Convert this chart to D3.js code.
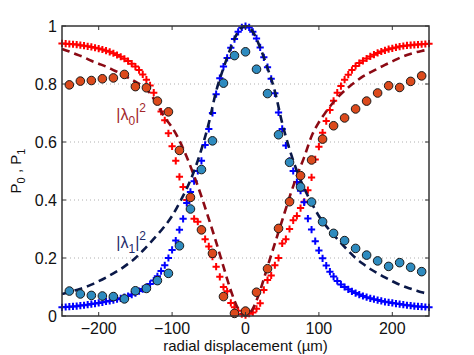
<!DOCTYPE html>
<html><head><meta charset="utf-8">
<script src="https://cdn.jsdelivr.net/npm/d3@7"></script>
<style>body{margin:0;background:#fff}svg{display:block}text{font-family:"Liberation Sans",Arial,Helvetica,sans-serif}</style>
</head><body>
<script>
// ---------- data ----------
const xTicks = [-200, -100, 0, 100, 200];
const yTicks = [0, 0.2, 0.4, 0.6, 0.8, 1];
const yTickLabels = ["0", "0.2", "0.4", "0.6", "0.8", "1"];

// simulation (crosses), every 5 µm from -250 to 250
const simX = d3.range(-250, 251, 5);
const simP0 = [0.940,0.939,0.938,0.937,0.936,0.934,0.932,0.930,0.928,0.925,0.922,0.919,0.915,0.911,0.906,0.900,0.894,0.887,0.879,0.870,0.860,0.848,0.833,0.815,0.795,0.770,0.742,0.705,0.675,0.630,0.585,0.535,0.480,0.445,0.400,0.370,0.335,0.325,0.300,0.265,0.240,0.205,0.170,0.135,0.100,0.085,0.045,0.030,0.018,0.006,0.003,
  0.008,0.012,0.025,0.044,0.090,0.124,0.140,0.175,0.200,0.250,0.265,0.300,0.330,0.345,0.372,0.394,0.434,0.478,0.540,0.584,0.632,0.672,0.710,0.742,0.770,0.793,0.815,0.832,0.848,0.862,0.872,0.880,0.888,0.895,0.901,0.907,0.912,0.916,0.920,0.923,0.926,0.929,0.931,0.933,0.934,0.935,0.936,0.937,0.938,0.939];
const simP1 = [0.030,0.031,0.032,0.033,0.034,0.036,0.037,0.039,0.041,0.043,0.045,0.047,0.050,0.052,0.055,0.058,0.061,0.065,0.069,0.074,0.079,0.086,0.093,0.100,0.110,0.122,0.137,0.155,0.175,0.200,0.228,0.260,0.297,0.335,0.390,0.428,0.465,0.500,0.535,0.590,0.645,0.700,0.765,0.820,0.860,0.890,0.925,0.955,0.980,0.995,1.000,
  0.995,0.980,0.957,0.926,0.892,0.858,0.818,0.768,0.702,0.645,0.588,0.535,0.500,0.462,0.432,0.392,0.336,0.298,0.258,0.226,0.199,0.174,0.153,0.136,0.121,0.109,0.100,0.092,0.085,0.079,0.074,0.069,0.065,0.061,0.058,0.055,0.052,0.049,0.047,0.045,0.043,0.041,0.039,0.037,0.036,0.034,0.033,0.032,0.031,0.030];

// theory (dashed), every 10 µm
const thX = d3.range(-250, 251, 10);
const thL0 = [0.921,0.912,0.902,0.892,0.880,0.870,0.860,0.848,0.836,0.822,0.808,0.792,0.768,0.728,0.685,0.650,0.605,0.548,0.483,0.412,0.335,0.255,0.170,0.088,0.025,0.000,
  0.025,0.088,0.170,0.250,0.330,0.410,0.483,0.548,0.620,0.668,0.705,0.738,0.765,0.788,0.808,0.826,0.840,0.853,0.866,0.878,0.890,0.900,0.908,0.914,0.919];
const thL1 = [0.076,0.082,0.090,0.098,0.108,0.120,0.133,0.147,0.162,0.180,0.200,0.225,0.252,0.280,0.310,0.345,0.390,0.440,0.500,0.575,0.665,0.775,0.855,0.925,0.980,1.000,
  0.980,0.925,0.855,0.775,0.665,0.575,0.500,0.440,0.390,0.345,0.310,0.280,0.252,0.225,0.200,0.180,0.162,0.147,0.133,0.120,0.108,0.098,0.090,0.082,0.076];

// measurements (circles), every 15 µm
const expX = [-240,-225,-210,-195,-180,-165,-150,-135,-120,-105,-90,-75,-60,-45,-30,-15,0,15,30,45,60,75,90,105,120,135,150,165,180,195,210,225,240];
const expP0 = [0.797,0.810,0.812,0.818,0.821,0.833,0.791,0.787,0.741,0.704,0.571,0.409,0.297,0.216,0.067,0.009,0.017,0.082,0.163,0.302,0.394,0.484,0.538,0.610,0.656,0.683,0.714,0.741,0.769,0.794,0.788,0.809,0.828];
const expP1 = [0.086,0.076,0.071,0.069,0.067,0.059,0.087,0.095,0.122,0.147,0.242,0.369,0.505,0.604,0.803,0.898,0.911,0.851,0.767,0.625,0.530,0.445,0.393,0.325,0.285,0.260,0.233,0.210,0.190,0.171,0.184,0.168,0.153];

// ---------- drawing ----------
const W = 474, H = 355;
const m = {l: 62, r: 45, t: 26, b: 39};
const svg = d3.select("body").append("svg").attr("width", W).attr("height", H);
const x = d3.scaleLinear().domain([-250, 250]).range([m.l, W - m.r]);
const y = d3.scaleLinear().domain([0, 1]).range([H - m.b, m.t]);
const pw = W - m.l - m.r, ph = H - m.t - m.b;

// grid
svg.append("g").selectAll("line").data(yTicks.filter(v => v > 0 && v < 1)).join("line")
  .attr("x1", m.l).attr("x2", W - m.r).attr("y1", d => y(d)).attr("y2", d => y(d))
  .attr("stroke", "#b0b0b0").attr("stroke-width", 1).attr("stroke-dasharray", "1,3");

const plot = svg.append("g");
const clip = svg.append("clipPath").attr("id", "c").append("rect")
  .attr("x", m.l - 6).attr("y", m.t - 6).attr("width", pw + 12).attr("height", ph + 12);
plot.attr("clip-path", "url(#c)");

function crosses(xs, ys, color) {
  const s = 3.6;
  plot.append("g").selectAll("path").data(xs.map((d, i) => [d, ys[i]])).join("path")
    .attr("d", d => `M${x(d[0]) - s},${y(d[1])}H${x(d[0]) + s}M${x(d[0])},${y(d[1]) - s}V${y(d[1]) + s}`)
    .attr("stroke", color).attr("stroke-width", 2).attr("fill", "none");
}
crosses(simX, simP0, "#ff0000");
crosses(simX, simP1, "#0000ff");

const line = d3.line().curve(d3.curveMonotoneX);
function dashed(xs, ys, color) {
  plot.append("path").attr("d", line(xs.map((d, i) => [x(d), y(ys[i])])))
    .attr("fill", "none").attr("stroke", color).attr("stroke-width", 2.6)
    .attr("stroke-dasharray", "8,5");
}
dashed(thX, thL0, "#8c0a14");
dashed(thX, thL1, "#0a1848");

function circles(xs, ys, color) {
  plot.append("g").selectAll("circle").data(xs.map((d, i) => [d, ys[i]])).join("circle")
    .attr("cx", d => x(d[0])).attr("cy", d => y(d[1])).attr("r", 4.3)
    .attr("fill", color).attr("stroke", "#1a1a1a").attr("stroke-width", 1);
}
circles(expX, expP0, "#dc4a1c");
circles(expX, expP1, "#2e8bbf");

// frame and ticks
const axc = "#333";
svg.append("rect").attr("x", m.l).attr("y", m.t).attr("width", pw).attr("height", ph)
  .attr("fill", "none").attr("stroke", axc).attr("stroke-width", 1.5);
const tl = 4;
svg.append("g").selectAll("line").data(xTicks).join("line")
  .attr("x1", d => x(d)).attr("x2", d => x(d)).attr("y1", H - m.b).attr("y2", H - m.b - tl).attr("stroke", axc);
svg.append("g").selectAll("line").data(xTicks).join("line")
  .attr("x1", d => x(d)).attr("x2", d => x(d)).attr("y1", m.t).attr("y2", m.t + tl).attr("stroke", axc);
svg.append("g").selectAll("line").data(yTicks).join("line")
  .attr("x1", m.l).attr("x2", m.l + tl).attr("y1", d => y(d)).attr("y2", d => y(d)).attr("stroke", axc);
svg.append("g").selectAll("line").data(yTicks).join("line")
  .attr("x1", W - m.r).attr("x2", W - m.r - tl).attr("y1", d => y(d)).attr("y2", d => y(d)).attr("stroke", axc);

// tick labels
svg.append("g").selectAll("text").data(xTicks).join("text")
  .attr("x", d => x(d)).attr("y", H - m.b + 18).attr("text-anchor", "middle")
  .attr("font-size", 16).attr("fill", "#111").text(d => d < 0 ? "\u2212" + Math.abs(d) : d);
svg.append("g").selectAll("text").data(yTicks).join("text")
  .attr("x", m.l - 5).attr("y", d => y(d) + 6).attr("text-anchor", "end")
  .attr("font-size", 16).attr("fill", "#111").text((d, i) => yTickLabels[i]);

// axis titles
svg.append("text").attr("x", x(0)).attr("y", H - 4).attr("text-anchor", "middle")
  .attr("font-size", 15).attr("fill", "#111").text("radial displacement (\u00b5m)");
const yl = svg.append("text").attr("transform", `translate(21,${m.t + ph / 2}) rotate(-90)`)
  .attr("text-anchor", "middle").attr("font-size", 15).attr("fill", "#111");
yl.append("tspan").text("P");
yl.append("tspan").attr("dy", 4).attr("font-size", 11).text("0");
yl.append("tspan").attr("dy", -4).text(" , P");
yl.append("tspan").attr("dy", 4).attr("font-size", 11).text("1");

// annotations
function lam(xv, yv, sub, color) {
  const t = svg.append("text").attr("x", x(xv)).attr("y", y(yv)).attr("font-size", 16).attr("fill", color);
  t.append("tspan").text("|\u03bb");
  t.append("tspan").attr("dy", 5).attr("font-size", 12).text(sub);
  t.append("tspan").attr("dy", -5).text("|");
  t.append("tspan").attr("dy", -8).attr("font-size", 12).text("2");
}
lam(-176, 0.675, "0", "#a3262a");
lam(-176, 0.235, "1", "#1c2a6a");
</script>
</body></html>
